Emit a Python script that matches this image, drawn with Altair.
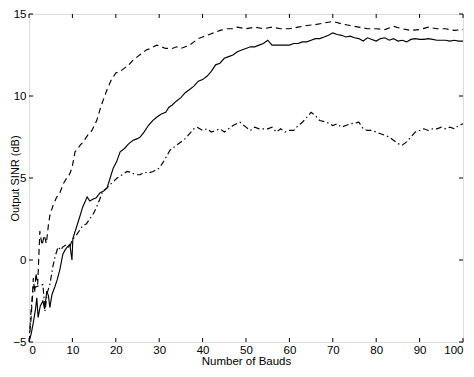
import altair as alt
import pandas as pd

# Solid line
solid_x = [0,0.5,1,1.5,1.8,2.1,2.6,3.2,3.6,4.1,4.5,4.8,5.3,6,6.5,7.1,7.8,8.3,8.7,9.4,9.9,10.1,10.7,11.3,12.0,12.4,13.0,13.4,14.0,14.7,15.5,16.4,17.2,18,18.7,19.4,20.2,21,22,23,24,25,25.6,26.5,27.5,28.5,29.4,30.5,31.5,32.2,33,34,35,36,37,38,39,40,41,42,43,44,45,46,47,48,49,50,51,52,53,54,55,56,57,58,59,60,61,62,63,64,65,66,67,68,69,70,71,72,73,74,75,76,77,78,79,80,81,82,83,84,85,86,87,88,89,90,91,92,93,94,95,96,97,98,99,100]
solid_y = [-5,-4.5,-3.8,-3.0,-2.3,-3.5,-2.8,-2.5,-3.0,-1.9,-2.2,-2.9,-2.1,-1.6,-1.2,-0.6,0.35,0.6,0.75,0.95,0.0,1.3,1.8,2.3,2.9,3.25,3.6,3.85,3.6,3.7,3.8,4.1,4.2,4.4,5.0,5.6,6.0,6.6,6.8,7.1,7.3,7.4,7.5,7.8,8.2,8.5,8.7,8.9,9.0,9.3,9.45,9.7,9.9,10.2,10.4,10.6,10.9,11.0,11.2,11.5,11.9,12.0,12.3,12.4,12.5,12.7,12.8,12.9,13.0,13.0,13.1,13.2,13.4,13.1,13.1,13.1,13.1,13.1,13.2,13.2,13.3,13.3,13.4,13.5,13.5,13.6,13.7,13.85,13.75,13.7,13.6,13.65,13.55,13.5,13.35,13.55,13.45,13.35,13.5,13.55,13.4,13.5,13.35,13.4,13.3,13.45,13.5,13.45,13.45,13.5,13.45,13.4,13.4,13.4,13.35,13.4,13.35,13.35]

# Dashed line
dash_x = [0,0.5,1,1.3,1.6,2,2.5,3,3.5,4,4.5,4.8,5.5,6.4,7,7.8,8.7,9.3,9.9,10.6,11,11.8,12.5,13.5,14.5,15.6,16.5,17.3,18,19,20,21,22,23,24,25,26,27,28,29.4,30.5,31.5,33,34,35,36,37,38,39,40,41,42,43,44,45.6,47,48,50,52,54,56,58,60,62,64,66,68,70,72,74,76,78,80,82,84,86,88,90,92,94,96,98,100]
dash_y = [-5,-3.5,-1.1,-2.0,-0.8,-1.5,1.76,0.9,1.5,1.0,2.2,2.7,3.3,3.85,4.0,4.6,5.0,5.2,5.6,6.6,6.7,7.0,7.2,7.6,7.9,8.5,9.3,9.9,10.4,11.0,11.4,11.5,11.7,11.9,12.2,12.4,12.6,12.8,12.9,13.1,13.0,12.9,12.9,13.0,12.9,13.0,13.1,13.3,13.5,13.6,13.7,13.8,13.9,14.0,14.1,14.1,14.2,14.1,14.2,14.1,14.2,14.1,14.1,14.2,14.3,14.35,14.45,14.55,14.4,14.3,14.2,14.1,14.1,14.05,14.25,14.1,14.0,14.05,14.2,14.1,14.1,14.0,14.05]

# Dash-dot line
dd_x = [0,0.5,1,2,3.2,3.7,4.2,4.8,5.5,6,6.7,7.3,7.8,8.7,9.3,9.9,11,12.4,13.2,14,15,15.6,16.3,17,18,18.7,19.5,20.3,21.5,22.6,23.5,24.5,25.6,26.5,27.5,28.6,30,31,32.5,33.5,35,36,37,38,38.7,40,41,42,43,44,45,46,47,48.6,50,51,52,53,55,56,57,58,59,60,61,62,63,64,65,66,67,68.6,70,71,72,73,74,75,76,77,78,79,80,81,82,83,84,85,86,87,88,89,90,91,92,93,94,95,96,97,98,99,100]
dd_y = [-5,-3,-1.7,-1.6,-1.5,-3.1,-2.0,-1.5,-0.4,0.2,0.8,0.6,0.8,0.95,0.7,1.2,1.55,2.1,2.2,2.5,2.9,3.25,3.7,4.2,4.4,4.6,4.8,5.0,5.2,5.4,5.35,5.2,5.2,5.35,5.3,5.4,5.6,6.0,6.7,6.9,7.2,7.4,7.7,8.0,8.1,7.9,8.0,7.8,7.9,8.0,7.8,8.0,8.2,8.4,8.1,7.9,8.1,8.0,8.0,8.1,7.8,8.0,7.8,7.9,7.9,8.2,8.4,8.7,9.0,8.8,8.5,8.4,8.2,8.3,8.1,8.2,8.3,8.35,8.4,8.0,7.9,7.9,7.8,7.7,7.6,7.5,7.3,7.1,7.0,7.2,7.5,7.8,7.9,8.0,7.9,8.0,8.0,8.1,8.0,8.1,8.0,8.2,8.3]

x_ticks = [0,10,20,30,40,50,60,70,80,90,100]
y_ticks = [-5,0,5,10,15]

W, H = 434, 328
FONT = "Liberation Sans"

xs = alt.Scale(domain=[0,100], nice=False, zero=False)
ys = alt.Scale(domain=[-5,15], nice=False, zero=False)

def line(xv, yv, dash):
    df = pd.DataFrame({"x": xv, "y": yv})
    kw = dict(color="black", strokeWidth=1.15, clip=True)
    if dash:
        kw["strokeDash"] = dash
    return alt.Chart(df).mark_line(**kw).encode(
        x=alt.X("x:Q"),
        y=alt.Y("y:Q"),
    )

base = alt.Chart(pd.DataFrame({"x": x_ticks, "y": [0]*len(x_ticks)})).mark_point(opacity=0).encode(
    x=alt.X("x:Q", scale=xs, axis=alt.Axis(values=x_ticks, title="Number of Bauds",
        ticks=False, domain=False, grid=False, labelFont=FONT, labelFontSize=11.5,
        labelColor="black", labelPadding=2, titleFont=FONT, titleFontSize=11.5,
        titleFontWeight="normal", titleColor="black", titlePadding=0)),
    y=alt.Y("y:Q", scale=ys, axis=alt.Axis(values=y_ticks, title="Output SINR (dB)",
        ticks=False, domain=False, grid=False, labelFont=FONT, labelFontSize=11.5,
        labelColor="black", labelPadding=3, titleFont=FONT, titleFontSize=11,
        titleFontWeight="normal", titleColor="black", titleX=-9)),
)

xt = pd.DataFrame({"x": x_ticks})
yt = pd.DataFrame({"y": y_ticks})
tb = alt.Chart(xt).mark_rule(color="black", strokeWidth=1).encode(
    x=alt.X("x:Q"), y=alt.value(H), y2=alt.value(H-4))
tt = alt.Chart(xt).mark_rule(color="black", strokeWidth=1).encode(
    x=alt.X("x:Q"), y=alt.value(0), y2=alt.value(4))
tl = alt.Chart(yt).mark_rule(color="black", strokeWidth=1).encode(
    y=alt.Y("y:Q"), x=alt.value(0), x2=alt.value(4))
tr = alt.Chart(yt).mark_rule(color="black", strokeWidth=1).encode(
    y=alt.Y("y:Q"), x=alt.value(W), x2=alt.value(W-4))

chart = alt.layer(
    base,
    line(solid_x, solid_y, None),
    line(dash_x, dash_y, [6, 4]),
    line(dd_x, dd_y, [6, 3, 1.5, 3]),
    tb, tt, tl, tr,
).properties(
    width=W, height=H,
    autosize=alt.AutoSizeParams(type="none"),
    padding={"left": 21, "top": 6, "right": 3, "bottom": 27},
).configure_view(stroke="black", strokeWidth=1.2).configure(background="white")

chart.save("out.html", embed_options={"renderer": "svg", "actions": False})
